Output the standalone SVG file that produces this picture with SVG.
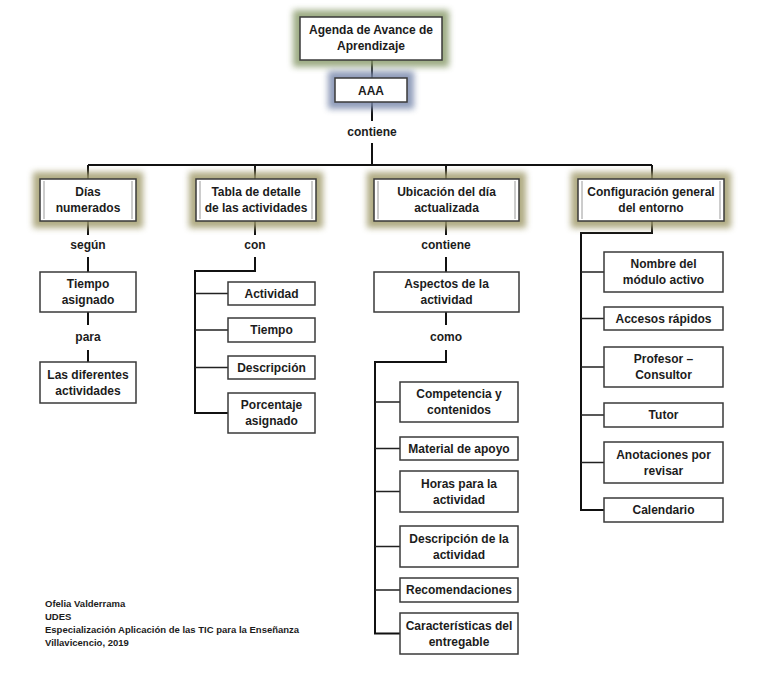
<svg xmlns="http://www.w3.org/2000/svg" width="768" height="681" viewBox="0 0 768 681">
<defs>
<filter id="blur" x="-30%" y="-50%" width="160%" height="200%"><feGaussianBlur stdDeviation="3"/></filter>
</defs>
<style>
.box{fill:#fff;stroke:#3a3a3a;stroke-width:1.5}
.inner{stroke:#9a9a9a;stroke-width:1;fill:none}
.g-olive{fill:#a39d6e;opacity:0.85;filter:url(#blur)}
.g-green{fill:#8d9e70;opacity:0.85;filter:url(#blur)}
.g-blue{fill:#7d8cae;opacity:0.85;filter:url(#blur)}
text{font-family:"Liberation Sans",Arial,sans-serif;font-weight:bold;font-size:12px;fill:#1c1c1c;text-anchor:middle}
.foot{font-size:9.5px;text-anchor:start}
.ln{stroke:#111;stroke-width:2;fill:none}
.br{stroke:#222;stroke-width:1.5;fill:none}
</style>
<rect width="768" height="681" fill="#fff"/>

<g id="connectors">
<path class="ln" d="M372,60V78M372,102V121M372,143V165M88,165H652M88,165V179M255,165V179M446,165V179M652,165V179"/>
<path class="ln" d="M88,221V235M88,257V272M88,312V325M88,350V362"/>
<path class="ln" d="M255,221V235M255,257V271H195V413H228"/>
<path class="br" d="M195,293.5H228M195,330H228M195,367.5H228"/>
<path class="ln" d="M446,221V235M446,257V272M446,312V325M446,350V362H375V633.5H400"/>
<path class="br" d="M375,402H400M375,448.5H400M375,491.5H400M375,546.5H400M375,590H400"/>
<path class="ln" d="M652,221V233H581V510H604"/>
<path class="br" d="M581,272H604M581,318.5H604M581,367H604M581,415H604M581,462.5H604"/>
<text x="372" y="136">contiene</text>
<text x="88" y="249">según</text>
<text x="88" y="341">para</text>
<text x="255" y="249">con</text>
<text x="446" y="249">contiene</text>
<text x="446" y="341">como</text>
</g>

<g id="n-agenda">
<rect class="g-green" x="293" y="10" width="156" height="57"/>
<rect class="box" x="300" y="17" width="142" height="43" stroke="#3d4a33" stroke-width="2"/>
<text x="371" y="34">Agenda de Avance de</text>
<text x="371" y="50">Aprendizaje</text>
</g>
<g id="n-aaa">
<rect class="g-blue" x="328" y="71" width="86" height="38"/>
<rect class="box" x="335" y="78" width="72" height="24"/>
<text x="371" y="94.5">AAA</text>
</g>

<g id="n-dias">
<rect class="g-olive" x="33" y="172" width="110" height="56"/>
<rect class="box" x="40" y="179" width="96" height="42"/>
<path class="inner" d="M44,181V219M132,181V219"/>
<text x="88" y="196">Días</text>
<text x="88" y="212">numerados</text>
</g>
<g id="n-tabla">
<rect class="g-olive" x="189" y="172" width="134" height="56"/>
<rect class="box" x="196" y="179" width="120" height="42"/>
<path class="inner" d="M200,181V219M312,181V219"/>
<text x="256" y="196">Tabla de detalle</text>
<text x="256" y="212">de las actividades</text>
</g>
<g id="n-ubicacion">
<rect class="g-olive" x="367" y="172" width="159" height="56"/>
<rect class="box" x="374" y="179" width="145" height="42"/>
<path class="inner" d="M378,181V219M515,181V219"/>
<text x="446.5" y="196">Ubicación del día</text>
<text x="446.5" y="212">actualizada</text>
</g>
<g id="n-config">
<rect class="g-olive" x="571" y="172" width="160" height="56"/>
<rect class="box" x="578" y="179" width="146" height="42"/>
<path class="inner" d="M582,181V219M720,181V219"/>
<text x="651" y="196">Configuración general</text>
<text x="651" y="212">del entorno</text>
</g>

<g id="n-tiempo-asignado"><rect class="box" x="40" y="272" width="96" height="40"/><text x="88" y="288">Tiempo</text><text x="88" y="304">asignado</text></g>
<g id="n-diferentes"><rect class="box" x="40" y="362" width="96" height="41"/><text x="88" y="378.5">Las diferentes</text><text x="88" y="394.5">actividades</text></g>

<g id="n-actividad"><rect class="box" x="228" y="282" width="87" height="23"/><text x="271.5" y="297.5">Actividad</text></g>
<g id="n-tiempo"><rect class="box" x="228" y="318" width="87" height="24"/><text x="271.5" y="334">Tiempo</text></g>
<g id="n-descripcion"><rect class="box" x="228" y="356" width="87" height="23"/><text x="271.5" y="371.5">Descripción</text></g>
<g id="n-porcentaje"><rect class="box" x="228" y="393" width="87" height="40"/><text x="271.5" y="409">Porcentaje</text><text x="271.5" y="425">asignado</text></g>

<g id="n-aspectos"><rect class="box" x="374" y="272" width="145" height="40"/><text x="446.5" y="288">Aspectos de la</text><text x="446.5" y="304">actividad</text></g>

<g id="n-competencia"><rect class="box" x="400" y="382" width="118" height="40"/><text x="459" y="398">Competencia y</text><text x="459" y="414">contenidos</text></g>
<g id="n-material"><rect class="box" x="400" y="437" width="118" height="23"/><text x="459" y="452.5">Material de apoyo</text></g>
<g id="n-horas"><rect class="box" x="400" y="471" width="118" height="41"/><text x="459" y="487.5">Horas para la</text><text x="459" y="503.5">actividad</text></g>
<g id="n-desc-act"><rect class="box" x="400" y="526" width="118" height="41"/><text x="459" y="542.5">Descripción de la</text><text x="459" y="558.5">actividad</text></g>
<g id="n-recomendaciones"><rect class="box" x="400" y="578" width="118" height="24"/><text x="459" y="594">Recomendaciones</text></g>
<g id="n-caracteristicas"><rect class="box" x="400" y="613" width="118" height="41"/><text x="459" y="629.5">Características del</text><text x="459" y="645.5">entregable</text></g>

<g id="n-nombre"><rect class="box" x="604" y="252" width="119" height="40"/><text x="663.5" y="268">Nombre del</text><text x="663.5" y="284">módulo activo</text></g>
<g id="n-accesos"><rect class="box" x="604" y="307" width="119" height="23"/><text x="663.5" y="322.5">Accesos rápidos</text></g>
<g id="n-profesor"><rect class="box" x="604" y="347" width="119" height="40"/><text x="663.5" y="363">Profesor –</text><text x="663.5" y="379">Consultor</text></g>
<g id="n-tutor"><rect class="box" x="604" y="403" width="119" height="24"/><text x="663.5" y="419">Tutor</text></g>
<g id="n-anotaciones"><rect class="box" x="604" y="442" width="119" height="41"/><text x="663.5" y="458.5">Anotaciones por</text><text x="663.5" y="474.5">revisar</text></g>
<g id="n-calendario"><rect class="box" x="604" y="498" width="119" height="24"/><text x="663.5" y="514">Calendario</text></g>

<g id="footer">
<text class="foot" x="45" y="607">Ofelia Valderrama</text>
<text class="foot" x="45" y="620">UDES</text>
<text class="foot" x="45" y="633">Especialización Aplicación de las TIC para la Enseñanza</text>
<text class="foot" x="45" y="646">Villavicencio, 2019</text>
</g>
</svg>
